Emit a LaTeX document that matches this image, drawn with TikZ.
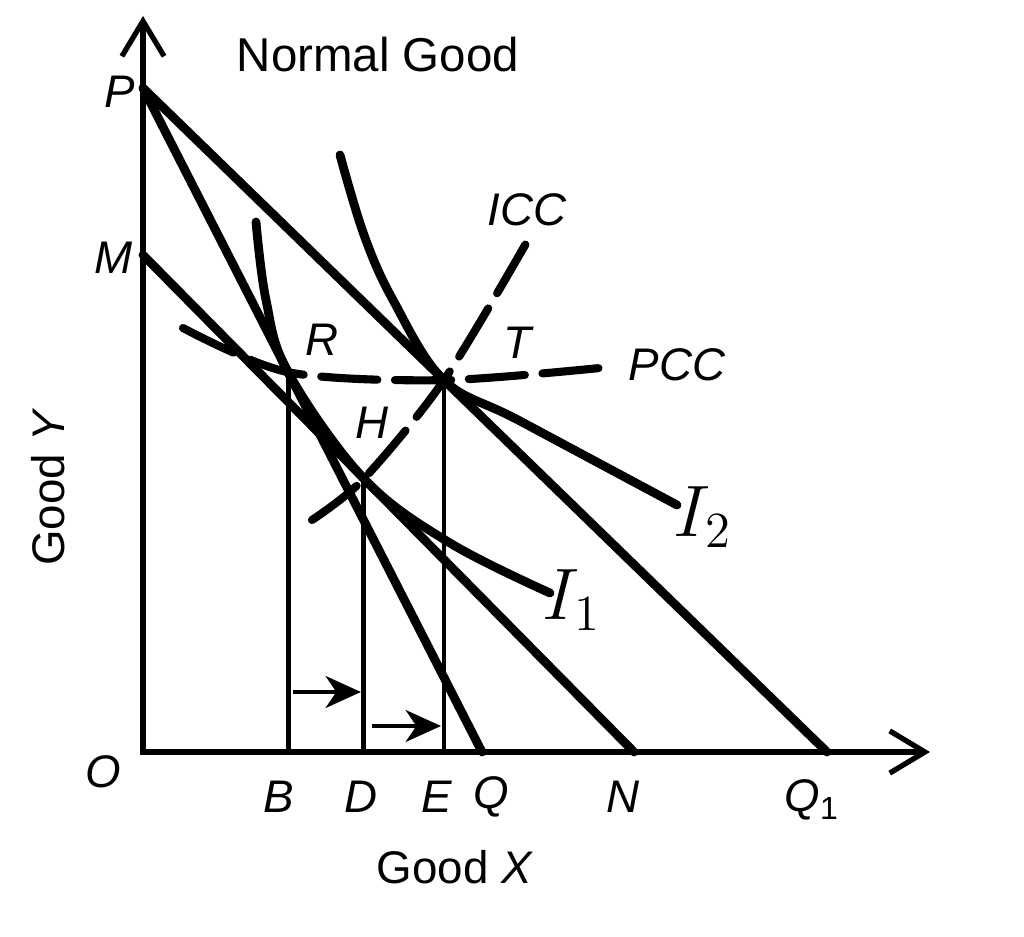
\documentclass[tikz,border=0pt]{standalone}
\usepackage{fontspec}
\setmainfont{Liberation Sans}
\usetikzlibrary{arrows.meta, calc, positioning}

\begin{document}
\begin{tikzpicture}[x=0.01cm, y=-0.01cm,
    budget/.style={line width=2.5pt, line cap=round},
    icurve/.style={line width=2.5pt, line cap=round},
    locus/.style={line width=2.3pt, line cap=round, dash pattern=on 16pt off 5pt},
    drop/.style={line width=1.4pt},
    effect/.style={line width=1.4pt, -{Stealth[length=10pt, width=9pt, inset=3pt]}},
    lbl/.style={font=\fontsize{13}{15}\selectfont\itshape, inner sep=0pt},
    curvelbl/.style={font=\fontsize{20}{22}\selectfont, inner sep=0pt}]
    \useasboundingbox (0,0) rectangle (1024,937);

    % axes
    \coordinate (O) at (143,752);
    \coordinate (Ytip) at (143,16);
    \coordinate (Xtip) at (930,752);
    \draw[line width=1.5pt, line join=miter, {Straight Barb[length=10pt, width=12pt]}-{Straight Barb[length=10pt, width=12pt]}] (Ytip) -- (O) -- (Xtip);

    % budget lines
    \coordinate (P) at (143,88);
    \coordinate (M) at (143,255);
    \coordinate (Q) at (482,752);
    \coordinate (N) at (634,752);
    \coordinate (Q1) at (827,752);
    \draw[budget] (P) -- (Q);
    \draw[budget] (P) -- (Q1);
    \draw[budget] (M) -- (N);

    % equilibrium points and drop lines
    \coordinate (R) at ($(P)!0.428!(Q)$);
    \coordinate (H) at ($(M)!0.45!(N)$);
    \coordinate (T) at ($(P)!0.44!(Q1)$);
    \coordinate (B) at (R |- O);
    \coordinate (D) at (H |- O);
    \coordinate (E) at (T |- O);
    \draw[drop] (R) -- (B);
    \draw[drop] (H) -- (D);
    \draw[drop] (T) -- (E);

    % indifference curves
    \draw[icurve] plot[smooth, tension=0.6] coordinates {(256,222) (266,300) (R) (H) (450,543) (550,593)};
    \draw[icurve] plot[smooth, tension=0.6] coordinates {(340,155) (364,235) (393,300) (T) (520,421) (677,505)};

    % PCC and ICC
    \draw[locus] plot[smooth] coordinates {(183,328) (R) (T) (610,367)};
    \draw[locus] plot[smooth] coordinates {(312,520) (H) (T) (528,240)};

    % substitution and income effects
    \coordinate (s1) at ($(B |- 0,692)+(5,0)$);
    \coordinate (s2) at ($(D |- 0,692)+(-3,0)$);
    \coordinate (i1) at ($(D |- 0,726)+(8,0)$);
    \coordinate (i2) at ($(E |- 0,726)+(-3,0)$);
    \draw[effect] (s1) -- (s2);
    \draw[effect] (i1) -- (i2);

    % labels
    \node[font=\fontsize{13.5}{16}\selectfont, inner sep=0pt] (title) at (378,55) {Normal Good};
    \node[lbl] (labP) at (120,92) {P};
    \node[lbl] (labM) at (114,258) {M};
    \node[lbl] (labO) at (103,772) {O};
    \node[lbl] (labB) at (279,797) {B};
    \node[lbl] (labD) at (361,797) {D};
    \node[lbl] (labE) at (437,797) {E};
    \node[lbl] (labQ) at (491,797) {Q};
    \node[lbl] (labN) at (623,797) {N};
    \node[lbl] (labQ1) at (812,800) {Q\textsubscript{\upshape 1}};
    \node[lbl] (labR) at (322,340) {R};
    \node[lbl] (labT) at (517,343) {T};
    \node[lbl] (labH) at (372,423) {H};
    \node[lbl] (labICC) at (527,210) {ICC};
    \node[lbl] (labPCC) at (677,365) {PCC};
    \node[curvelbl] (labI1) at (572,600) {$I_1$};
    \node[curvelbl] (labI2) at (703,517) {$I_2$};
    \node[font=\fontsize{13}{15}\selectfont, inner sep=0pt] (labX) at (455,867) {Good \textit{X}};
    \node[font=\fontsize{13}{15}\selectfont, inner sep=0pt, rotate=90] (labY) at (48,487) {Good \textit{Y}};
\end{tikzpicture}
\end{document}
